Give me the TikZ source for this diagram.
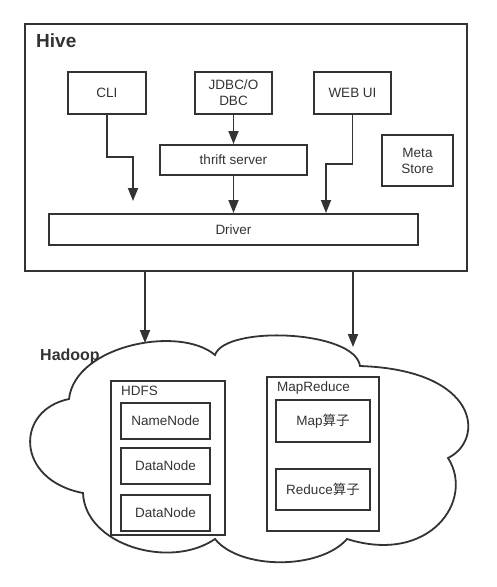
\documentclass[tikz,border=0pt]{standalone}
\usepackage{fontspec}
\setmainfont{Liberation Sans}
\newfontfamily\cjk{Noto Sans CJK SC}
\usetikzlibrary{arrows.meta}
\definecolor{linec}{HTML}{333333}
\tikzset{
  box/.style={draw=linec, line width=2pt, text=linec, inner sep=0pt, align=center,
    font=\fontsize{13.5}{16}\selectfont},
  arr/.style={draw=linec, line width=1.8pt, -{Triangle[length=13pt,width=10pt]}},
  lbl/.style={text=linec, inner sep=0pt, font=\fontsize{13.5}{16}\selectfont},
}
\begin{document}
\begin{tikzpicture}[x=1pt,y=-1pt]
\useasboundingbox (0,0) rectangle (496,587);
% Hive
\node[box, minimum width=442pt, minimum height=247pt] (hive) at (246,147.5) {};
\node[anchor=base west, text=linec, inner sep=0pt, font=\fontsize{19}{22}\selectfont\bfseries] (hivel) at (36,47) {Hive};
\node[box, minimum width=78pt, minimum height=42pt] (cli) at (107,93) {CLI};
\node[box, minimum width=77pt, minimum height=42pt] (jdbc) at (233.5,93) {JDBC/O\\DBC};
\node[box, minimum width=77pt, minimum height=42pt] (web) at (352.5,93) {WEB UI};
\node[box, minimum width=147pt, minimum height=30pt] (thrift) at (233.5,160) {thrift server};
\node[box, minimum width=71pt, minimum height=51pt] (meta) at (417.5,160.5) {Meta\\Store};
\node[box, minimum width=369pt, minimum height=31pt] (driver) at (233.5,229.5) {Driver};
\coordinate (cliturn) at (133,157);
\coordinate (cliend) at (133,201);
\coordinate (webturn) at (326,164);
\draw[arr] (cli.south) |- (cliturn) -- (cliend);
\draw[arr] (jdbc.south) -- (thrift.north);
\draw[arr] (thrift.south) -- (driver.north);
\draw[arr] (web.south) |- (webturn) -- (webturn |- driver.north);
% Cloud
\draw[linec, line width=1.8pt]
  (69,399) .. controls (15,410) and (15,480) .. (83,493)
  .. controls (85,545) and (170,570) .. (215,539)
  .. controls (240,570) and (320,570) .. (347,539)
  .. controls (430,565) and (475,500) .. (448,458)
  .. controls (485,440) and (480,370) .. (360,366)
  .. controls (355,330) and (225,325) .. (215,355)
  .. controls (180,325) and (75,345) .. cycle;
\node[anchor=base west, text=linec, inner sep=0pt, font=\fontsize{16}{19}\selectfont\bfseries] (hadoopl) at (40,360) {Hadoop};
\coordinate (h1) at (145,343);
\coordinate (h2) at (353,347);
\draw[arr] (h1 |- hive.south) -- (h1);
\draw[arr] (h2 |- hive.south) -- (h2);
% HDFS
\node[box, minimum width=114pt, minimum height=154pt] (hdfs) at (168,458) {};
\node[lbl, anchor=base west] (hdfsl) at (121,395) {HDFS};
\node[box, minimum width=89pt, minimum height=36pt] (nn) at (165.5,421) {NameNode};
\node[box, minimum width=89pt, minimum height=36pt] (dn1) at (165.5,466) {DataNode};
\node[box, minimum width=89pt, minimum height=36pt] (dn2) at (165.5,513) {DataNode};
% MapReduce
\node[box, minimum width=112pt, minimum height=154pt] (mr) at (323,454) {};
\node[lbl, anchor=base west] (mrl) at (277,391) {MapReduce};
\node[box, minimum width=94pt, minimum height=42pt] (map) at (323,421) {Map{\cjk 算子}};
\node[box, minimum width=94pt, minimum height=41pt] (red) at (323,489.5) {Reduce{\cjk 算子}};
\end{tikzpicture}
\end{document}
